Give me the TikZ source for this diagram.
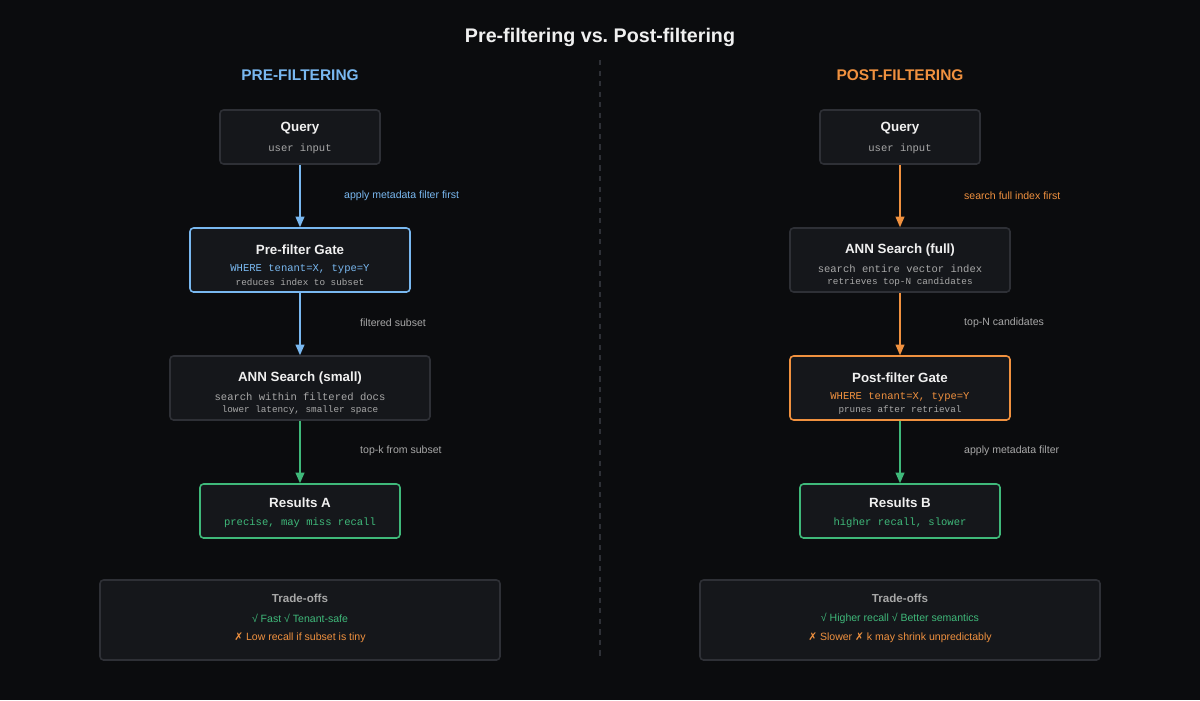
\documentclass[tikz,border=0pt]{standalone}
\usepackage{fontspec}
\setmainfont{Liberation Sans}
\setmonofont{Liberation Mono}
\newfontfamily\symf{DejaVu Sans}
\usetikzlibrary{arrows.meta}
\definecolor{bg}{HTML}{0B0C0E}
\definecolor{boxf}{HTML}{15171B}
\definecolor{boxd}{HTML}{2E3036}
\definecolor{cblue}{HTML}{79B8F0}
\definecolor{corange}{HTML}{F0913F}
\definecolor{cgreen}{HTML}{3FB97A}
\definecolor{cwhite}{HTML}{F0F0F0}
\definecolor{cgray}{HTML}{A8A8A8}
\begin{document}
\begin{tikzpicture}[x=0.02cm,y=-0.02cm,
  box/.style={draw=boxd,fill=boxf,line width=0.9pt,rounded corners=2pt,inner sep=0pt},
  ttl/.style={text=cwhite,font=\bfseries\fontsize{7.6}{9}\selectfont},
  mono/.style={font=\ttfamily\fontsize{6}{7}\selectfont,text=cgray},
  tiny/.style={font=\ttfamily\fontsize{5.3}{6}\selectfont,text=cgray},
  lab/.style={font=\fontsize{6}{7}\selectfont,text=cgray,anchor=west},
  arr/.style={line width=0.9pt,-{Triangle[length=6pt,width=5pt]}}]
\fill[bg] (0,0) rectangle (1200,700);
\useasboundingbox (0,0) rectangle (1200,700);
\node[text=cwhite,font=\bfseries\fontsize{11.2}{13}\selectfont] (title) at (600,37) {Pre-filtering vs.\ Post-filtering};
\draw[boxd,dashed,line width=0.7pt] (600,60) -- (600,656);
\node[text=cblue,font=\bfseries\fontsize{8.8}{10}\selectfont] (hl) at (300,75) {PRE-FILTERING};
\node[text=corange,font=\bfseries\fontsize{8.8}{10}\selectfont] (hr) at (900,75) {POST-FILTERING};
% left
\node[box,minimum width=160*0.02cm,minimum height=54*0.02cm] (q1) at (300,137) {};
\node[ttl] at (300,128) {Query};
\node[mono] at (300,149) {user input};
\node[box,draw=cblue,minimum width=220*0.02cm,minimum height=64*0.02cm] (g1) at (300,260) {};
\node[ttl] at (300,250) {Pre-filter Gate};
\node[mono,text=cblue] at (300,269) {WHERE tenant=X, type=Y};
\node[tiny] at (300,282) {reduces index to subset};
\node[box,minimum width=260*0.02cm,minimum height=64*0.02cm] (a1) at (300,388) {};
\node[ttl] at (300,378) {ANN Search (small)};
\node[mono] at (300,397) {search within filtered docs};
\node[tiny] at (300,410) {lower latency, smaller space};
\node[box,draw=cgreen,minimum width=200*0.02cm,minimum height=54*0.02cm] (r1) at (300,511) {};
\node[ttl] at (300,503) {Results A};
\node[mono,text=cgreen] at (300,523) {precise, may miss recall};
\draw[arr,cblue] (q1) -- (g1);
\draw[arr,cblue] (g1) -- (a1);
\draw[arr,cgreen] (a1) -- (r1);
\node[lab,text=cblue] at (338,196) {apply metadata filter first};
\node[lab] at (354,323) {filtered subset};
\node[lab] at (354,451) {top-k from subset};
\node[box,minimum width=400*0.02cm,minimum height=80*0.02cm] (t1) at (300,620) {};
\node[text=cgray,font=\bfseries\fontsize{6.6}{8}\selectfont] at (300,598) {Trade-offs};
\node[text=cgreen,font=\fontsize{6}{7}\selectfont] at (300,618) {√ Fast √ Tenant-safe};
\node[text=corange,font=\fontsize{6}{7}\selectfont] at (300,638) {{\symf ✗} Low recall if subset is tiny};
% right
\node[box,minimum width=160*0.02cm,minimum height=54*0.02cm] (q2) at (900,137) {};
\node[ttl] at (900,128) {Query};
\node[mono] at (900,149) {user input};
\node[box,minimum width=220*0.02cm,minimum height=64*0.02cm] (a2) at (900,260) {};
\node[ttl] at (900,250) {ANN Search (full)};
\node[mono] at (900,269) {search entire vector index};
\node[tiny] at (900,282) {retrieves top-N candidates};
\node[box,draw=corange,minimum width=220*0.02cm,minimum height=64*0.02cm] (g2) at (900,388) {};
\node[ttl] at (900,378) {Post-filter Gate};
\node[mono,text=corange] at (900,397) {WHERE tenant=X, type=Y};
\node[tiny] at (900,410) {prunes after retrieval};
\node[box,draw=cgreen,minimum width=200*0.02cm,minimum height=54*0.02cm] (r2) at (900,511) {};
\node[ttl] at (900,503) {Results B};
\node[mono,text=cgreen] at (900,523) {higher recall, slower};
\draw[arr,corange] (q2) -- (a2);
\draw[arr,corange] (a2) -- (g2);
\draw[arr,cgreen] (g2) -- (r2);
\node[lab,text=corange] at (958,196) {search full index first};
\node[lab] at (958,323) {top-N candidates};
\node[lab] at (958,451) {apply metadata filter};
\node[box,minimum width=400*0.02cm,minimum height=80*0.02cm] (t2) at (900,620) {};
\node[text=cgray,font=\bfseries\fontsize{6.6}{8}\selectfont] at (900,598) {Trade-offs};
\node[text=cgreen,font=\fontsize{6}{7}\selectfont] at (900,618) {√ Higher recall √ Better semantics};
\node[text=corange,font=\fontsize{6}{7}\selectfont] at (900,638) {{\symf ✗} Slower {\symf ✗} k may shrink unpredictably};
\end{tikzpicture}
\end{document}
